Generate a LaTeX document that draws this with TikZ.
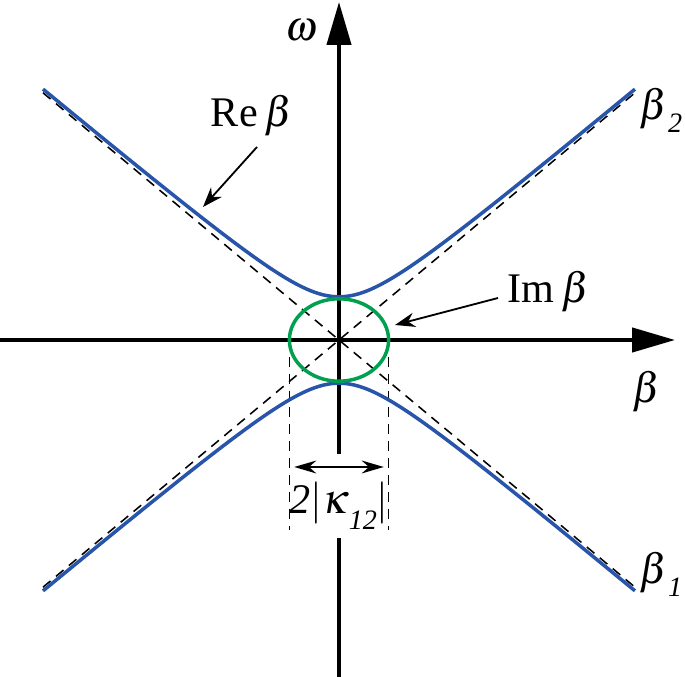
\documentclass[tikz,border=0pt]{standalone}
\usepackage{mathptmx}
\usepackage{fontspec}
\setmainfont{Liberation Serif}
\usetikzlibrary{arrows.meta, positioning}
\definecolor{curveblue}{RGB}{40,85,170}
\definecolor{circgreen}{RGB}{0,160,80}
\newcommand{\lowsub}[2][-9pt]{\raisebox{#1}{\fontsize{20}{22}\selectfont\itshape #2}}
\tikzset{
	axisline/.style={line width=2.8pt},
	axisarrow/.style={line width=2.8pt, -{Triangle[length=1.07cm,width=0.6cm]}},
	asym/.style={line width=1.1pt, dash pattern=on 7pt off 5pt},
	pointer/.style={line width=1.3pt, -{Stealth[length=5mm,width=3.6mm]}},
	lbl/.style={font=\fontsize{30}{34}\selectfont, inner sep=0pt},
	axlbl/.style={font=\fontsize{30}{34}\selectfont, inner sep=0pt}
}
\begin{document}
\begin{tikzpicture}
	\useasboundingbox (-8.475,-8.425) rectangle (8.65,8.5);
	\draw[asym] (-7.4,6.18) -- (7.4,-6.18);
	\draw[asym] (-7.4,-6.18) -- (7.4,6.18);
	\draw[asym] (-1.24,0) -- (-1.24,-4.75);
	\draw[asym] (1.24,0) -- (1.24,-4.75);
	\draw[axisline] (0,-8.425) -- (0,-4.95);
	\draw[axisarrow] (0,-2.85) -- (0,8.45);
	\draw[axisarrow] (-8.475,0) -- (8.4,0);
	\draw[color=curveblue, line width=2.5pt] plot[domain=-7.4:7.4, samples=120, smooth] (\x,{sqrt(1.08*1.08+0.697*\x*\x)});
	\draw[color=curveblue, line width=2.5pt] plot[domain=-7.4:7.4, samples=120, smooth] (\x,{-sqrt(1.08*1.08+0.697*\x*\x)});
	\draw[color=circgreen, line width=2.5pt] (0,0) ellipse (1.24 and 1.03);
	\node[axlbl] (omega) at (-0.925,7.75) {$\omega$};
	\node[axlbl] (betaax) at (7.7,-1.3) {$\beta$};
	\node[axlbl] (betatwo) at (8.05,5.75) {$\beta$\lowsub{2}};
	\node[axlbl] (betaone) at (8.05,-5.85) {$\beta$\lowsub{1}};
	\node[lbl] (relbl) at (-2.175,5.6) {Re\,$\beta$};
	\node[lbl] (imlbl) at (5.25,1.2) {Im\,$\beta$};
	\node[font=\fontsize{30}{34}\selectfont, inner sep=0pt] (kappa) at (0,-4.15) {\textit{2}$|\kappa$\lowsub[-11pt]{12}$|$};
	\coordinate (retail) at (-2.05,4.825);
	\coordinate (retip) at (-3.4,3.325);
	\coordinate (imtail) at (3.975,1.05);
	\coordinate (imtip) at (1.4,0.375);
	\coordinate (kleft) at (-1.12,-3.175);
	\coordinate (kright) at (1.12,-3.175);
	\draw[pointer] (retail) -- (retip);
	\draw[pointer] (imtail) -- (imtip);
	\draw[line width=2pt, {Stealth[length=5.5mm,width=3.2mm]}-{Stealth[length=5.5mm,width=3.2mm]}] (kleft) -- (kright);
\end{tikzpicture}
\end{document}
